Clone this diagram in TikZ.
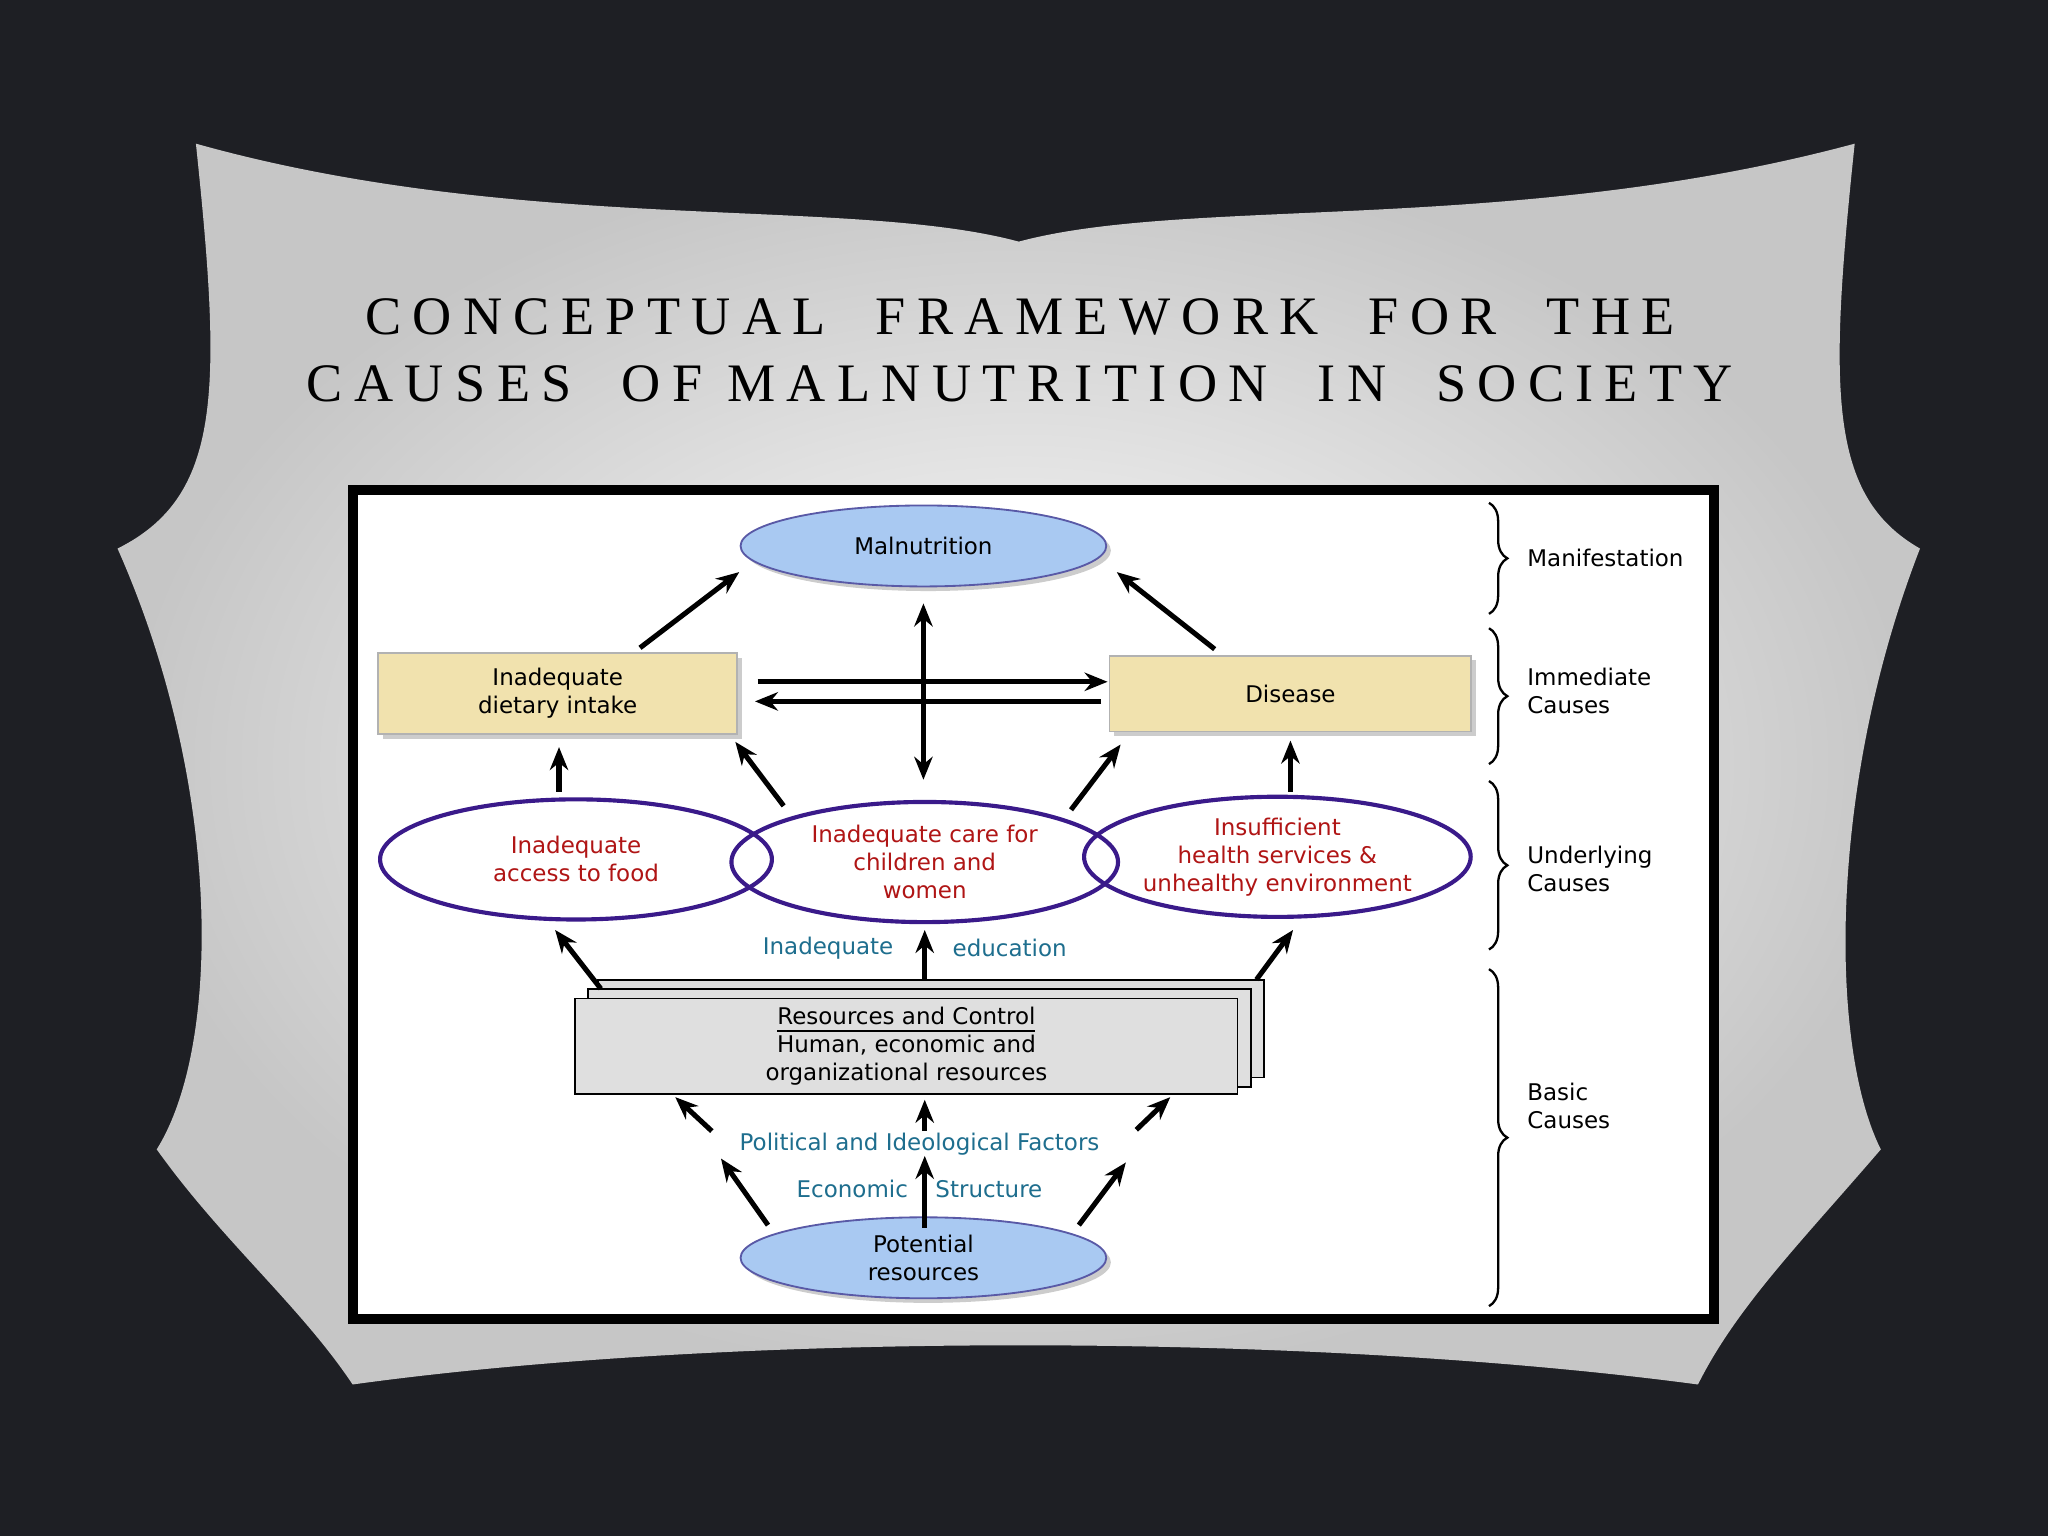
\documentclass[tikz,border=0pt]{standalone}
\usepackage{fontspec}
\setmainfont{DejaVu Sans}
\newfontfamily\ttl[LetterSpace=21]{Liberation Serif}
\usetikzlibrary{arrows.meta,decorations.pathreplacing,shadows,shapes.geometric}
\definecolor{bgdark}{HTML}{1E1F24}
\definecolor{eblue}{HTML}{A9C9F2}
\definecolor{tan}{HTML}{F1E2AE}
\definecolor{purp}{HTML}{3A1A8A}
\definecolor{dred}{HTML}{B01515}
\definecolor{teal}{HTML}{1E6E8E}
\tikzset{
 f/.style={font=\fontsize{5.0}{6.1}\selectfont},
 ell/.style={ellipse,inner sep=0pt,draw=gray!70!blue,fill=eblue,f,align=center,drop shadow={opacity=0.4,shadow xshift=1pt,shadow yshift=-1pt}},
 box/.style={draw=gray!60,fill=tan,f,align=center,drop shadow={opacity=0.4,shadow xshift=1pt,shadow yshift=-1pt}},
 uc/.style={ellipse,inner sep=0pt,draw=purp,line width=0.9pt,text=dred,f,align=center},
 ar/.style={-{Stealth[length=5pt,width=4pt]},line width=1.1pt,black},
 lab/.style={f,anchor=west,align=left},
 tl/.style={f,text=teal},
 br/.style={decorate,decoration={brace,amplitude=4pt},line width=0.5pt}
}
\begin{document}
\begin{tikzpicture}[x=0.01cm,y=-0.01cm]
\useasboundingbox (0,0) rectangle (1568,1176);
\fill[bgdark] (0,0) rectangle (1568,1176);
% frame
\shade[inner color=white,outer color=gray!45] (150,110) .. controls (400,180) and (650,150) .. (780,185)
 .. controls (910,150) and (1160,180) .. (1420,110)
 .. controls (1400,300) and (1400,380) .. (1470,420)
 .. controls (1400,600) and (1400,800) .. (1440,880)
 .. controls (1380,950) and (1330,1000) .. (1300,1060)
 .. controls (1000,1020) and (560,1020) .. (270,1060)
 .. controls (230,1000) and (170,950) .. (120,880)
 .. controls (170,800) and (170,600) .. (90,420)
 .. controls (170,380) and (170,300) .. (150,110) -- cycle;
% title
\node[font=\ttl\fontsize{11.8}{14.5}\selectfont,align=center] (title) at (781,268) {CONCEPTUAL\ \ FRAMEWORK\ \ FOR\ \ THE\\ CAUSES\ \ OF MALNUTRITION\ \ IN\ \ SOCIETY};
% white panel
\draw[fill=white,line width=2.2pt] (270,375) rectangle (1312,1010);
% nodes
\node[ell,minimum width=280*0.01cm,minimum height=62*0.01cm] (mal) at (707,418) {Malnutrition};
\node[box,minimum width=275*0.01cm,minimum height=58*0.01cm] (diet) at (427,531) {Inadequate\\dietary intake};
\node[box,minimum width=277*0.01cm,minimum height=58*0.01cm] (dis) at (988,531) {Disease};
\node[uc,minimum width=300*0.01cm,minimum height=92*0.01cm] (food) at (441,658) {Inadequate\\access to food};
\node[uc,minimum width=296*0.01cm,minimum height=92*0.01cm] (care) at (708,660) {Inadequate care for\\children and\\women};
\node[uc,minimum width=296*0.01cm,minimum height=92*0.01cm] (hlth) at (978,656) {Insufficient\\health services \&\\unhealthy environment};
\draw[fill=gray!25,draw=black] (458,750) rectangle (968,825);
\draw[fill=gray!25,draw=black] (450,757) rectangle (958,832);
\node[draw=black,fill=gray!25,inner sep=0pt,minimum width=507*0.01cm,minimum height=73*0.01cm,f,align=center] (res) at (694,801) {\underline{Resources and Control}\\Human, economic and\\organizational resources};
\node[ell,minimum width=280*0.01cm,minimum height=62*0.01cm] (pot) at (707,963) {Potential\\resources};
% text labels
\node[tl] (ie1) at (634,726) {Inadequate};
\node[tl] (ie2) at (773,726) {education};
\node[tl] (pif) at (704,876) {Political and Ideological Factors};
\node[tl] (es) at (704,910) {Economic\hspace{6pt}Structure};
% arrows
\draw[ar] (490,496) -- (566,438);
\draw[ar] (930,497) -- (855,438);
\draw[{Stealth[length=5pt,width=4pt]}-{Stealth[length=5pt,width=4pt]},line width=1.1pt] (707,462) -- (707,597);
\draw[ar] (580,522) -- (848,522);
\draw[ar] (843,537) -- (578,537);
\draw[ar] (428,606) -- (428,572);
\draw[ar] (600,617) -- (563,568);
\draw[ar] (820,620) -- (858,570);
\draw[ar] (988,606) -- (988,567);
\draw[ar] (460,757) -- (425,712);
\draw[ar] (708,750) -- (708,712);
\draw[ar] (962,750) -- (990,712);
\draw[ar] (588,938) -- (552,887);
\draw[ar] (545,866) -- (517,840);
\draw[ar] (826,938) -- (862,890);
\draw[ar] (870,865) -- (896,840);
\draw[ar] (708,940) -- (708,885);
\draw[ar] (708,866) -- (708,842);
% braces
\draw[br] (1140,385) -- (1140,470);
\draw[br] (1140,481) -- (1140,585);
\draw[br] (1140,598) -- (1140,727);
\draw[br] (1140,742) -- (1140,1000);
\node[lab] (m) at (1157,427) {Manifestation};
\node[lab] (ic) at (1157,529) {Immediate\\Causes};
\node[lab] (uc) at (1157,665) {Underlying\\Causes};
\node[lab] (bc) at (1157,847) {Basic\\Causes};
\end{tikzpicture}
\end{document}
